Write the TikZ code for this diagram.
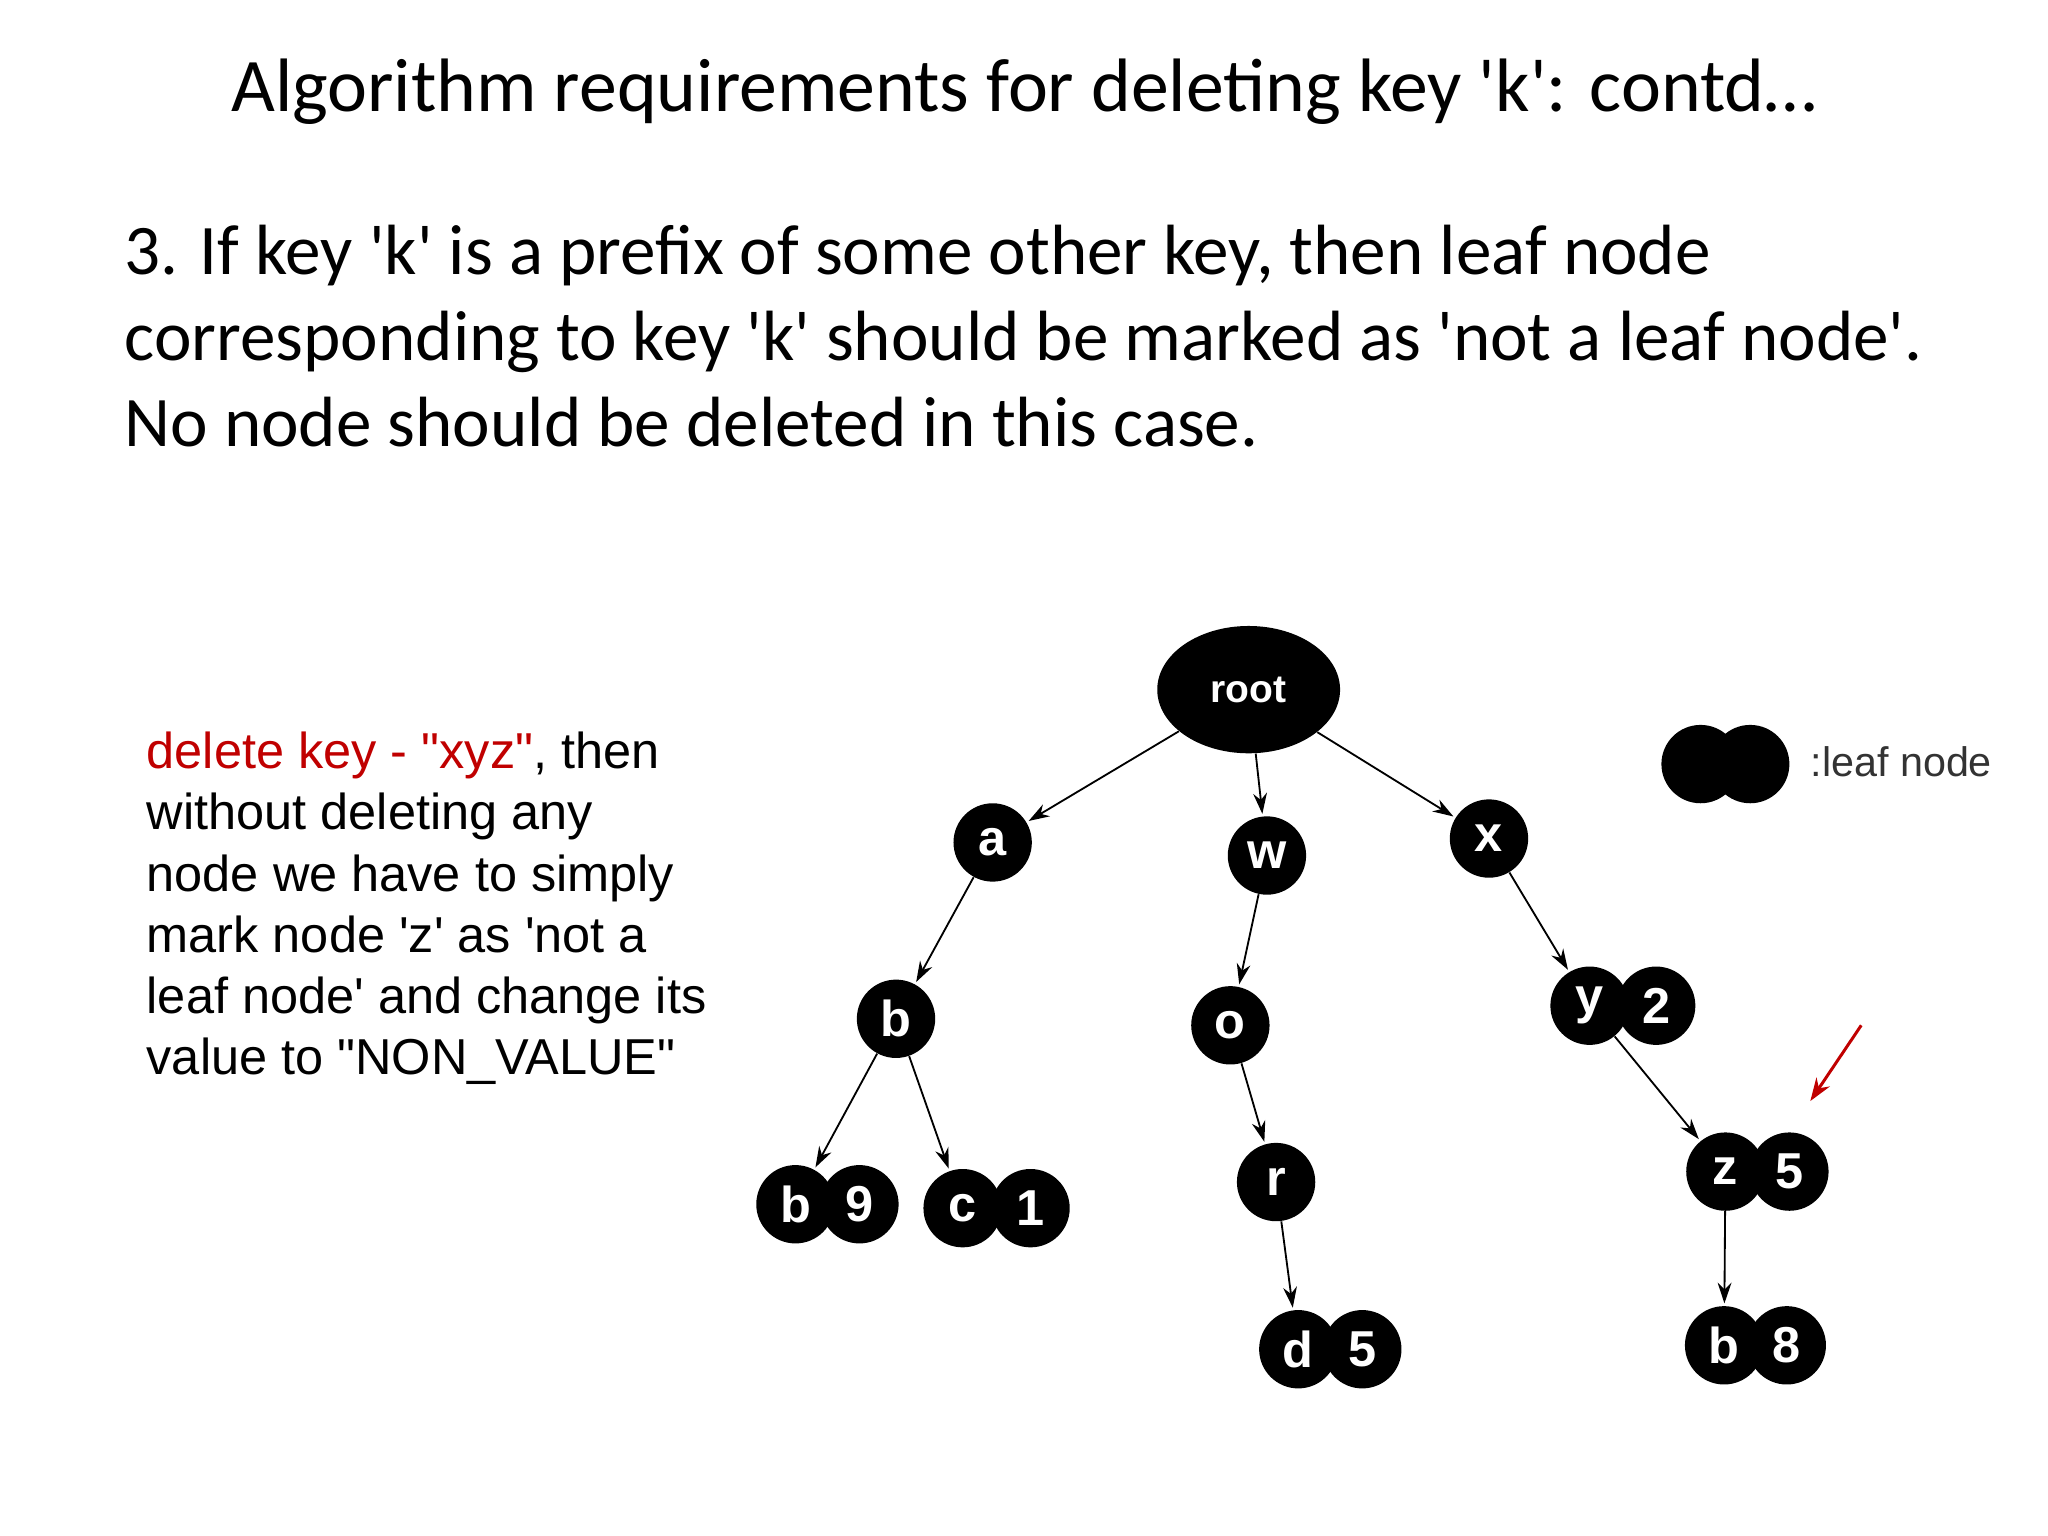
\documentclass[tikz,border=0pt]{standalone}
\usepackage{fontspec}
\setmainfont{Carlito}[Ligatures=TeXOff]
\newfontfamily\arial{Liberation Sans}[Ligatures=TeXOff]
\usetikzlibrary{arrows.meta,shapes.geometric}
\definecolor{dred}{RGB}{192,0,0}
\begin{document}
\begin{tikzpicture}[x=0.02cm,y=-0.02cm,
  dot/.style={circle,fill=black,minimum size=1.2cm,inner sep=0pt,text=white,font=\arial\bfseries\fontsize{22}{22}\selectfont},
  edge/.style={-{Stealth[length=9pt,width=6pt]},line width=0.8pt,shorten >=1pt}]
\useasboundingbox (0,0) rectangle (1568,1176);
\node[font=\fontsize{33}{36}\selectfont] (title) at (784,70) {Algorithm requirements for deleting key 'k': contd…};
\node[font=\fontsize{31}{37.5}\selectfont,anchor=north west,align=left,inner sep=0pt] (body) at (95,172)
 {3. If key 'k' is a prefix of some other key, then leaf node\\corresponding to key 'k' should be marked as 'not a leaf node'.\\No node should be deleted in this case.};
\node[font=\arial\fontsize{22}{26.7}\selectfont,anchor=north west,align=left,inner sep=0pt] (desc) at (112,560)
 {\textcolor{dred}{delete key - "xyz"}, then\\without deleting any\\node we have to simply\\mark node 'z' as 'not a\\leaf node' and change its\\value to "NON\_VALUE"};
\node[ellipse,fill=black,minimum width=2.8cm,minimum height=1.95cm,text=white,font=\arial\bfseries\fontsize{17}{17}\selectfont] (root) at (956,528) {root};
\node[dot] (a) at (760,645) {a};
\node[dot] (w) at (970,655) {w};
\node[dot] (x) at (1140,642) {x};
\node[dot] (b) at (686,780) {b};
\node[dot] (o) at (942,785) {o};
\node[dot] (r) at (977,905) {r};
\node[dot] (y2) at (1268,770) {2};
\node[dot] (y) at (1217,770) {y};
\node[dot] (z5) at (1370,897) {5};
\node[dot] (z) at (1321,897) {z};
\node[dot] (b8n) at (1368,1030) {8};
\node[dot] (b8) at (1320,1030) {b};
\node[dot] (d5n) at (1043,1033) {5};
\node[dot] (d5) at (994,1033) {d};
\node[dot] (b9n) at (658,922) {9};
\node[dot] (b9) at (609,922) {b};
\node[dot] (c1n) at (789,925) {1};
\node[dot] (c1) at (737,925) {c};
\node[dot] (l2) at (1340,585) {};
\node[dot] (l1) at (1302,585) {};
\node[anchor=west,font=\arial\fontsize{18}{18}\selectfont,text=black!80] (lt) at (1380,583) {:leaf node};
\draw[edge] (root) -- (a);
\draw[edge] (root) -- (w);
\draw[edge] (root) -- (x);
\draw[edge] (a) -- (b);
\draw[edge] (b) -- (b9);
\draw[edge] (b) -- (c1);
\draw[edge] (w) -- (o);
\draw[edge] (o) -- (r);
\draw[edge] (r) -- (d5);
\draw[edge] (x) -- (y);
\draw[edge] (y) -- (z);
\draw[edge] (z) -- (b8);
\coordinate (ra) at (1425,785);
\coordinate (rb) at (1386,843);
\draw[-{Stealth[length=10pt,width=7pt]},dred,line width=1.3pt] (ra) -- (rb);
\end{tikzpicture}
\end{document}
